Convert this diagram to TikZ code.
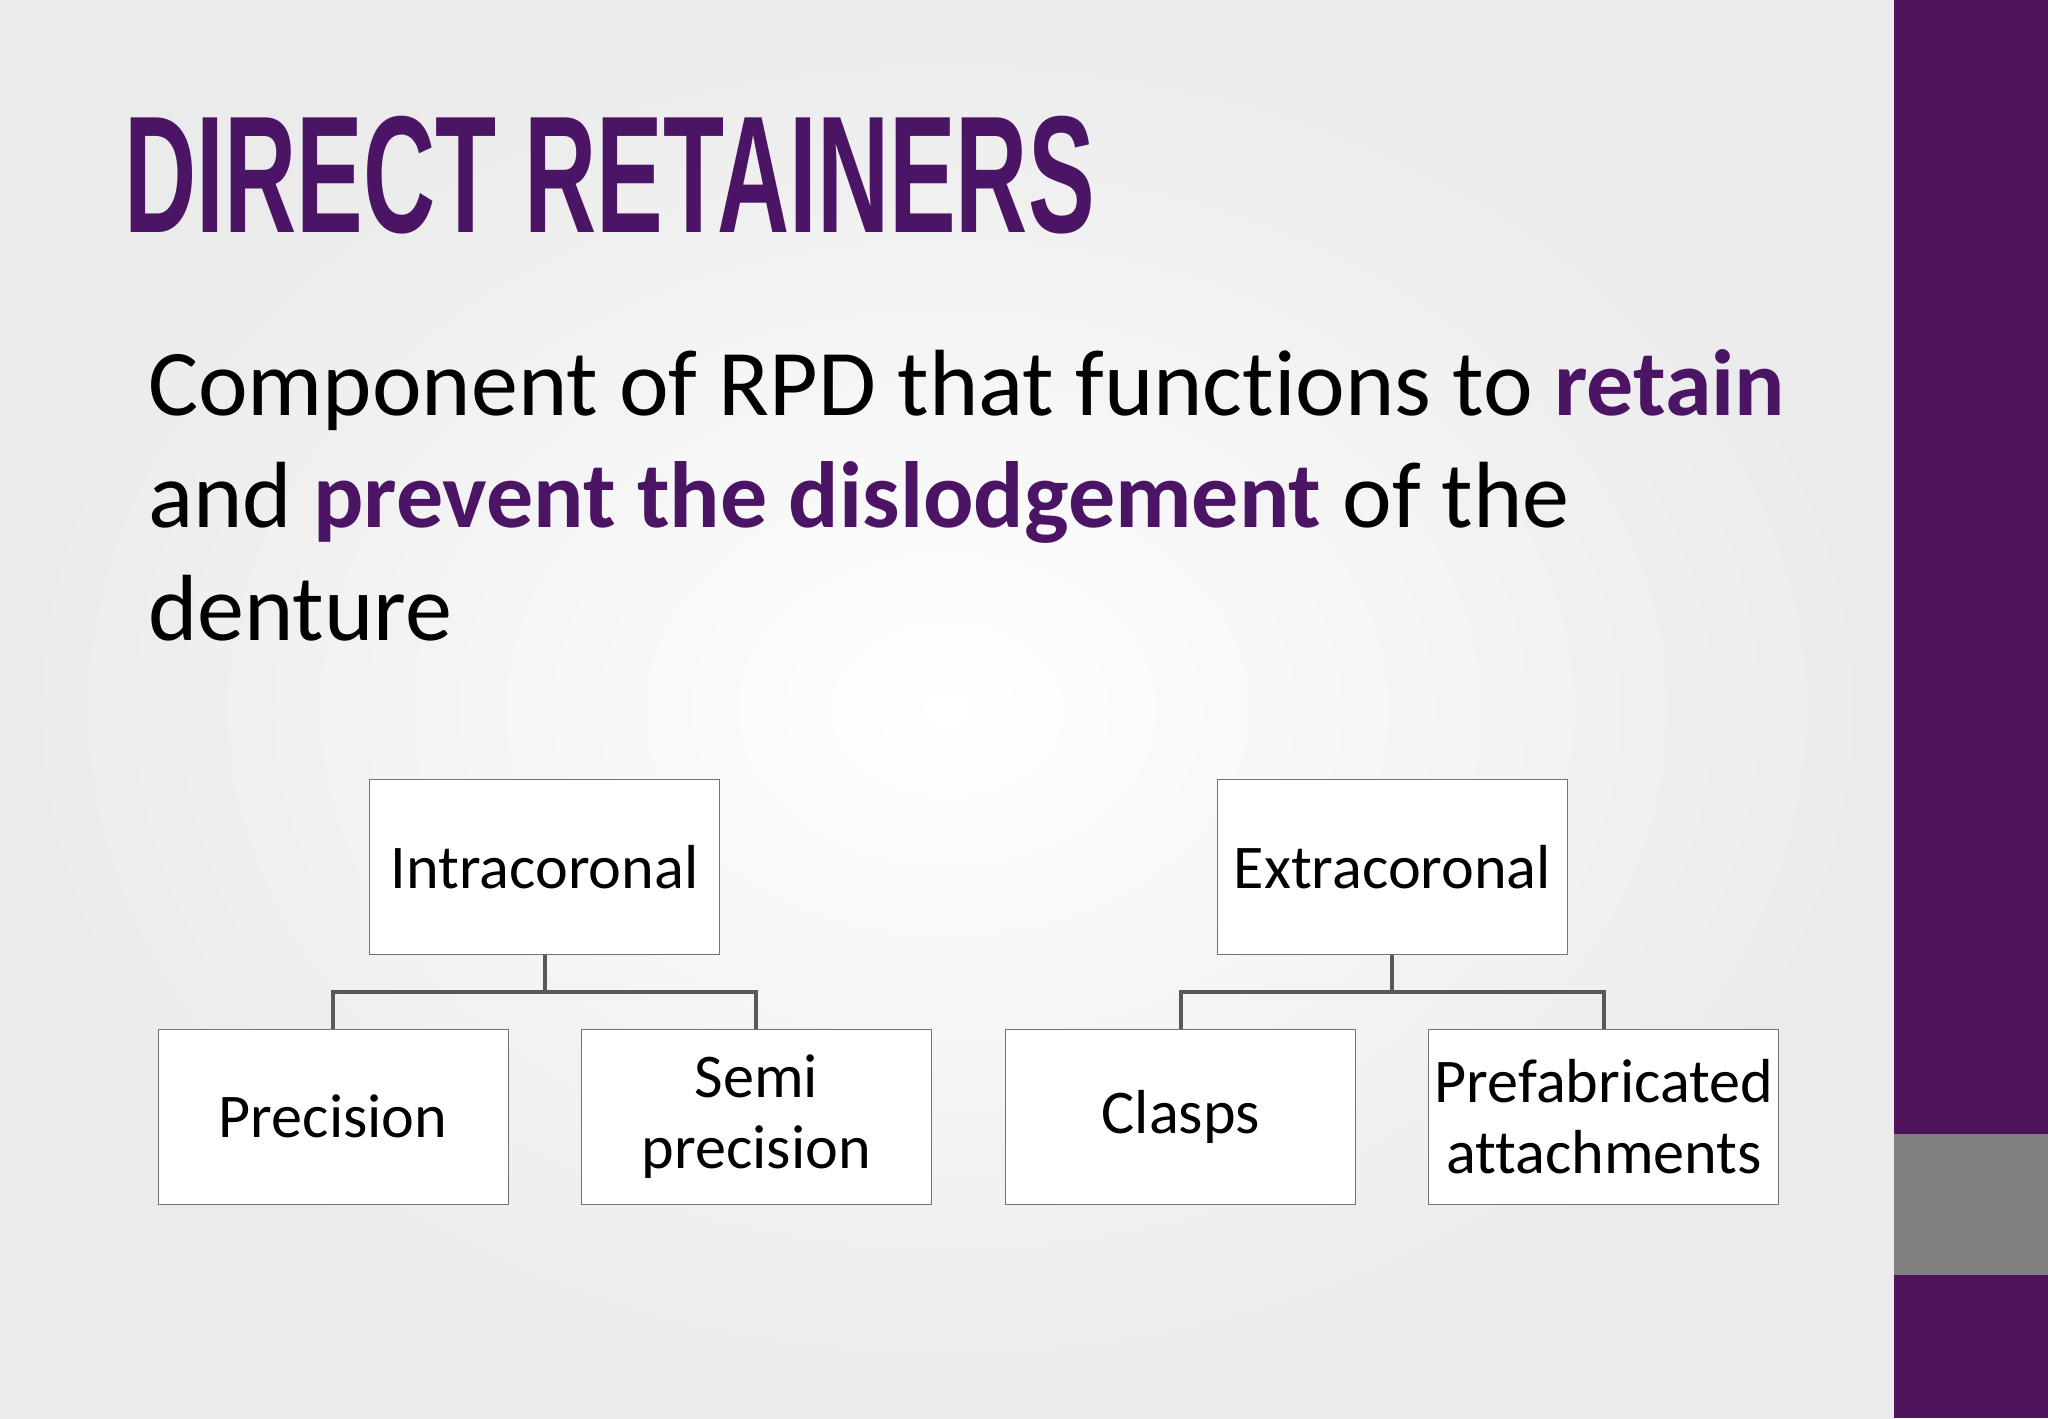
\documentclass[tikz,border=0pt]{standalone}
\usepackage{fontspec}
\setmainfont[Ligatures=NoCommon]{Carlito}
\newfontfamily\titlefont{Liberation Sans}
\definecolor{plum}{HTML}{4B1464}
\definecolor{barplum}{HTML}{4F145E}
\tikzset{
  item/.style={draw=black!55, fill=white, minimum width=134pt, minimum height=67pt,
    align=center, font=\fontsize{23.8}{27}\selectfont, inner sep=1pt},
  tree/.style={draw=black!65, line width=1.6pt}
}
\begin{document}
\begin{tikzpicture}[x=0.5pt,y=-0.5pt]
\useasboundingbox (0,0) rectangle (1568,1086);
% background
\shade[inner color=white, outer color=black!8] (0,0) rectangle (1450,1086);
\fill[barplum] (1450,0) rectangle (1568,1086);
\fill[black!50] (1450,868) rectangle (1568,976);
% title
\node[anchor=south west, inner sep=0, text=plum, font=\titlefont\bfseries\fontsize{58}{58}\selectfont, xscale=0.66, yscale=1.1]
  (title) at (95,180) {DIRECT RETAINERS};
% body text
\node[anchor=base west, inner sep=0, font=\fontsize{36}{43}\selectfont] (l1) at (113,318)
  {Component of RPD that functions to \textcolor{plum}{\bfseries retain}};
\node[anchor=base west, inner sep=0, font=\fontsize{36}{43}\selectfont] (l2) at (113,404)
  {and \textcolor{plum}{\bfseries prevent the dislodgement} of the};
\node[anchor=base west, inner sep=0, font=\fontsize{36}{43}\selectfont] (l3) at (113,490)
  {denture};
% charts
\node[item] (intra) at (417,664) {Intracoronal};
\node[item] (extra) at (1066,664) {Extracoronal};
\node[item] (prec) at (255,855) {Precision};
\node[item] (semi) at (579,855) {Semi\\precision};
\node[item] (clasp) at (904,855) {Clasps};
\node[item] (prefab) at (1228,855) {Prefabricated\\attachments};
\draw[tree] (intra.south) -- ++(0,28) -| (prec.north);
\draw[tree] (intra.south) -- ++(0,28) -| (semi.north);
\draw[tree] (extra.south) -- ++(0,28) -| (clasp.north);
\draw[tree] (extra.south) -- ++(0,28) -| (prefab.north);
\end{tikzpicture}
\end{document}
